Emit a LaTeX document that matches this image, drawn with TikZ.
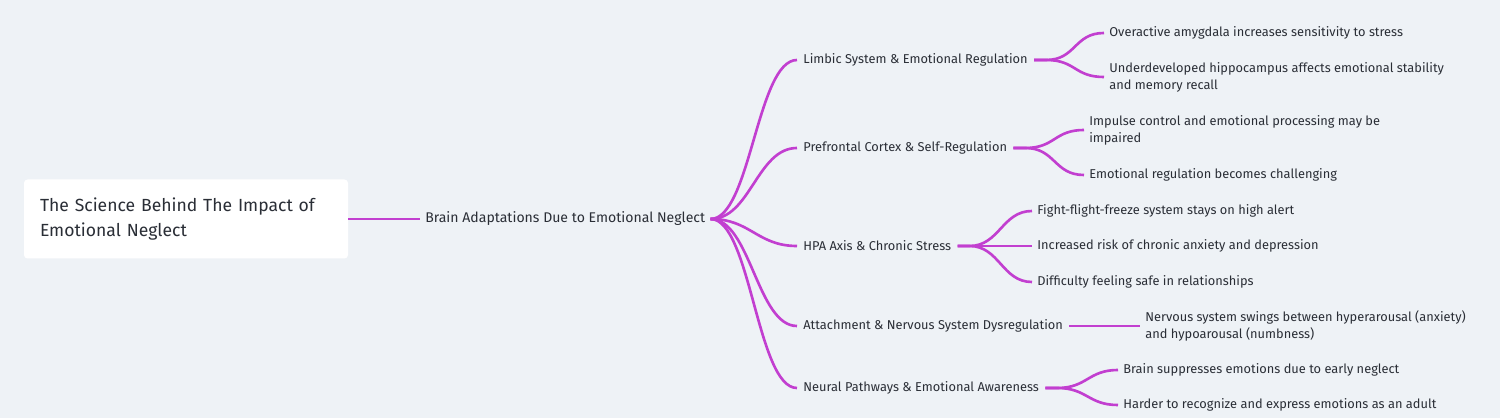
\documentclass[tikz,border=0pt]{standalone}
\usepackage{fontspec}
\setmainfont{Fira Sans}
\definecolor{bgcol}{HTML}{EEF2F6}
\definecolor{linkcol}{HTML}{C23FD0}
\definecolor{txtcol}{HTML}{2A2E36}
\begin{document}
\begin{tikzpicture}[x=0.02cm, y=-0.02cm,
root/.style={fill=white, rounded corners=2pt, text=txtcol, align=left, font=\fontsize{10}{14.7}\selectfont, minimum width=324*0.02cm, minimum height=79*0.02cm, text width=292*0.02cm, inner xsep=16*0.02cm},
topic/.style={text=txtcol, anchor=west, inner xsep=5*0.02cm, font=\fontsize{8}{10}\selectfont},
branch/.style={text=txtcol, anchor=west, inner xsep=6*0.02cm, font=\fontsize{7.3}{9.6}\selectfont},
leaf/.style={text=txtcol, anchor=west, align=left, inner xsep=5*0.02cm, font=\fontsize{7.3}{9.6}\selectfont},
link/.style={draw=linkcol, line width=1.5pt}
]
\fill[bgcol] (0,0) rectangle (1500,418);
\useasboundingbox (0,0) rectangle (1500,418);
%Nodes
\node[root]   (root) at (186,219)  {The Science Behind The Impact of\\Emotional Neglect};
\node[topic]  (brain) at (420,219) {Brain Adaptations Due to Emotional Neglect};
\node[branch] (limb) at (797,60)   {Limbic System \& Emotional Regulation};
\node[branch] (pfc)  at (797,148)  {Prefrontal Cortex \& Self-Regulation};
\node[branch] (hpa)  at (797,246)  {HPA Axis \& Chronic Stress};
\node[branch] (att)  at (797,326)  {Attachment \& Nervous System Dysregulation};
\node[branch] (neur) at (797,388)  {Neural Pathways \& Emotional Awareness};
\node[leaf] (limb1) at (1104,33)  {Overactive amygdala increases sensitivity to stress};
\node[leaf] (limb2) at (1104,77)  {Underdeveloped hippocampus affects emotional stability\\and memory recall};
\node[leaf] (pfc1)  at (1084,130) {Impulse control and emotional processing may be\\impaired};
\node[leaf] (pfc2)  at (1084,175) {Emotional regulation becomes challenging};
\node[leaf] (hpa1)  at (1032,211) {Fight-flight-freeze system stays on high alert};
\node[leaf] (hpa2)  at (1032,246) {Increased risk of chronic anxiety and depression};
\node[leaf] (hpa3)  at (1032,282) {Difficulty feeling safe in relationships};
\node[leaf] (att1)  at (1140,326) {Nervous system swings between hyperarousal (anxiety)\\and hypoarousal (numbness)};
\node[leaf] (neur1) at (1118,370) {Brain suppresses emotions due to early neglect};
\node[leaf] (neur2) at (1118,405) {Harder to recognize and express emotions as an adult};
%Lines
\draw[link] (root.east) -- (brain.west);
\foreach \b in {limb,pfc,hpa,att,neur}
  \draw[link] (brain.east) .. controls +(40,0) and +(-40,0) .. (\b.west);
\foreach \p/\l in {limb/limb1,limb/limb2,pfc/pfc1,pfc/pfc2,hpa/hpa1,hpa/hpa2,hpa/hpa3,att/att1,neur/neur1,neur/neur2}
  \draw[link] (\p.east) -- +(12,0) .. controls +(30,0) and +(-30,0) .. (\l.west);
\end{tikzpicture}
\end{document}
